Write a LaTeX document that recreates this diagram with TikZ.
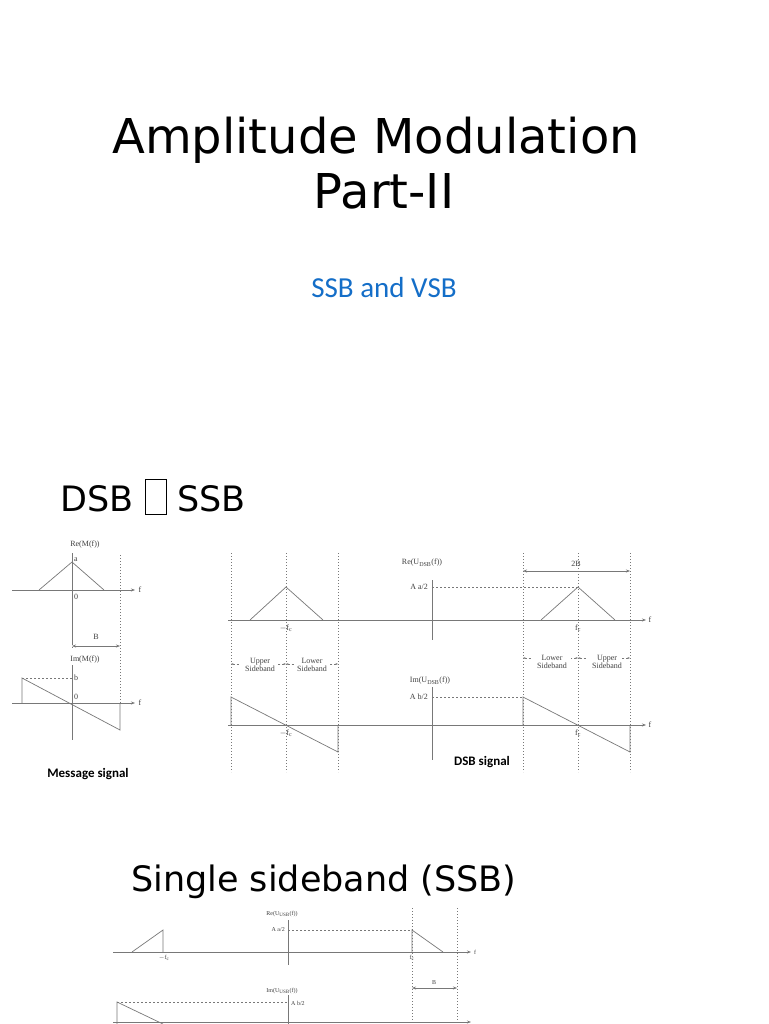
\documentclass[tikz,border=0pt]{standalone}
\usepackage{fontspec}
\setmainfont{DejaVu Sans}
\newfontfamily\carfont{Carlito}
\newfontfamily\tms{Liberation Serif}
\usetikzlibrary{arrows.meta}
\definecolor{ln}{RGB}{120,120,120}
\definecolor{bl}{RGB}{20,110,200}
\tikzset{ax/.style={draw=ln,line width=0.7pt},
 arr/.style={ax,-{Stealth[length=4pt,width=3pt]}},
 dsh/.style={draw=ln,dashed,dash pattern=on 2pt off 2pt,line width=0.5pt},
 dot/.style={draw=ln,dash pattern=on 1pt off 2pt,line width=0.6pt},
 dim/.style={draw=ln,line width=0.5pt,{Stealth[length=4pt,width=3pt]}-{Stealth[length=4pt,width=3pt]}},
 sl/.style={font=\tms\fontsize{8}{9}\selectfont,text=black!75,inner sep=1pt},
 sb/.style={sl,align=center,font=\tms\fontsize{8}{8.5}\selectfont},
 ss/.style={sl,font=\tms\fontsize{6}{7}\selectfont}}
\begin{document}
\begin{tikzpicture}[x=1pt,y=-1pt]
\useasboundingbox (0,0) rectangle (768,1024);
\fill[white] (0,0) rectangle (768,1024);
% titles
\node (t1) at (376,140) {\fontsize{48}{54}\selectfont Amplitude Modulation};
\node (t2) at (384,191) {\fontsize{48}{54}\selectfont Part-II};
\node[text=bl] (t3) at (384,288) {\carfont\fontsize{29}{32}\selectfont SSB and VSB};
\node[anchor=west,inner sep=0] (h1) at (60,497) {\fontsize{35}{38}\selectfont DSB \raisebox{-0.1em}{\tikz\draw[line width=0.8pt](0,0) rectangle (0.6em,1em);} SSB};
\node[anchor=west,inner sep=0] (h2) at (131,882) {\fontsize{35}{38}\selectfont Single sideband (SSB)};
\node (c1) at (88,774) {\carfont\bfseries\fontsize{13}{14}\selectfont Message signal};
\node (c2) at (482,762) {\carfont\bfseries\fontsize{13}{14}\selectfont DSB signal};
% message panel
\draw[ax] (72,553) -- (72,645);
\draw[arr] (12,590) -- (135,590);
\node[sl] at (140,590) {f};
\draw[ax] (39,590) -- (72,562) -- (104,590);
\draw[dot] (120,555) -- (120,703);
\node[sl] at (76,560) {a};
\node[sl] at (76,597) {0};
\node[sl] at (85,545) {Re(M(f))};
\draw[dsh] (72,635) -- (72,648);
\draw[dim] (72,646) -- (120,646);
\node[sl] at (96,637) {B};
\node[sl] at (85,660) {Im(M(f))};
\draw[ax] (72,665) -- (72,740);
\draw[arr] (12,703) -- (135,703);
\node[sl] at (140,703) {f};
\draw[ax] (22,703) -- (22,678) -- (120,730) -- (120,703);
\draw[dsh] (22,678) -- (72,678);
\node[sl] at (76,678) {b};
\node[sl] at (76,697) {0};
% DSB panel
\foreach \x in {231,286,338,523,578,630} \draw[dot] (\x,553) -- (\x,772);
\draw[arr] (228,620) -- (646,620);
\node[sl] at (650,620) {f};
\draw[ax] (432,580) -- (432,640);
\draw[ax] (250,620) -- (286,587) -- (323,620);
\draw[ax] (541,620) -- (578,587) -- (615,620);
\draw[dsh] (432,587) -- (578,587);
\node[sl,anchor=east] at (429,587) {A a/2};
\node[sl] at (422,563) {Re(U\textsubscript{DSB}(f))};
\draw[dim] (523,571) -- (630,571);
\node[sl] at (576,564) {2B};
\node[sl] at (286,628) {$-$f\textsubscript{c}};
\node[sl] at (578,628) {f\textsubscript{c}};
\node[sb] at (260,665) {Upper\\Sideband};
\node[sb] at (312,665) {Lower\\Sideband};
\node[sb] at (552,662) {Lower\\Sideband};
\node[sb] at (607,662) {Upper\\Sideband};
\foreach \a/\b/\y in {231/240/664,286/278/664,286/294/664,338/330/664,523/532/658,578/571/658,578/586/658,630/622/658}
  \draw[dsh,{Stealth[length=2.5pt]}-] (\a,\y) -- (\b,\y);
\draw[arr] (228,725) -- (646,725);
\node[sl] at (650,725) {f};
\draw[ax] (432,687) -- (432,760);
\node[sl] at (430,681) {Im(U\textsubscript{DSB}(f))};
\draw[dsh] (432,697) -- (523,697);
\node[sl,anchor=east] at (429,697) {A b/2};
\draw[ax] (231,725) -- (231,697) -- (338,752) -- (338,725);
\draw[ax] (523,725) -- (523,697) -- (630,752) -- (630,725);
\node[sl] at (286,733) {$-$f\textsubscript{c}};
\node[sl] at (578,733) {f\textsubscript{c}};
% SSB panel
\draw[arr] (113,952) -- (471,952);
\node[ss] at (475,952) {f};
\draw[ax] (288,920) -- (288,965);
\draw[ax] (132,952) -- (163,930) -- (163,952);
\draw[ax] (412,952) -- (412,930) -- (443,952);
\draw[dsh] (288,930) -- (412,930);
\node[ss,anchor=east] at (286,930) {A a/2};
\node[ss] at (282,914) {Re(U\textsubscript{USB}(f))};
\node[ss] at (164,958) {$-$f\textsubscript{c}};
\node[ss] at (412,958) {f\textsubscript{c}};
\foreach \x in {412,457} \draw[dot] (\x,908) -- (\x,1024);
\draw[dim] (412,988) -- (457,988);
\node[ss] at (434,983) {B};
\node[ss] at (282,991) {Im(U\textsubscript{USB}(f))};
\node[ss,anchor=west] at (290,1003) {A b/2};
\draw[ax] (288,995) -- (288,1024);
\draw[dsh] (117,1002) -- (288,1002);
\draw[ax] (117,1024) -- (117,1002) -- (163,1024);
\draw[arr] (113,1022) -- (471,1022);
\end{tikzpicture}
\end{document}
